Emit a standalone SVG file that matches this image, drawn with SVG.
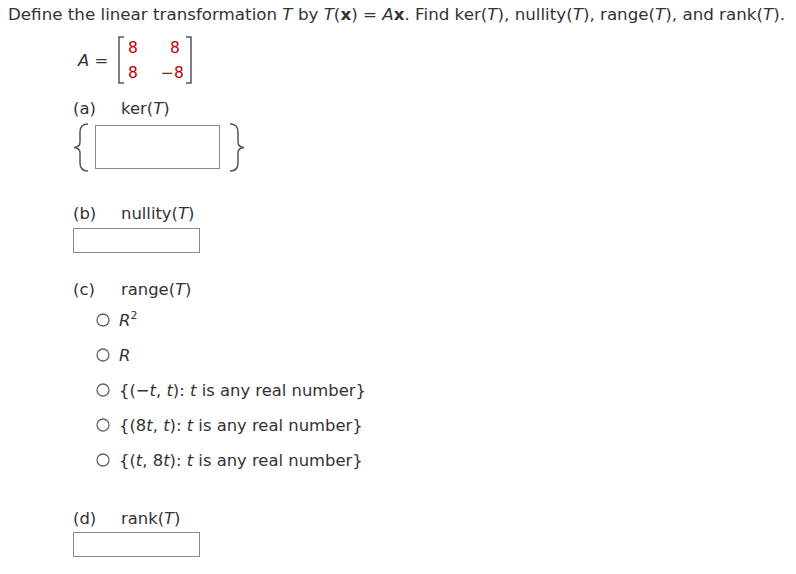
<svg xmlns="http://www.w3.org/2000/svg" width="796" height="574" viewBox="0 0 796 574">
<style>
text{font-family:"DejaVu Sans",Verdana,sans-serif;font-size:16.4px;fill:#333}
.i{font-style:italic}
.r{fill:#c00000;font-size:15.5px}
.box{fill:#fff;stroke:#888;stroke-width:1}
.rad{fill:#fff;stroke:#666;stroke-width:1.3}
.br{fill:none;stroke:#555;stroke-width:1.5}
</style>
<rect width="796" height="574" fill="#fff"/>
<text x="8" y="20" textLength="777" lengthAdjust="spacingAndGlyphs">Define the linear transformation <tspan class="i">T</tspan> by <tspan class="i">T</tspan>(<tspan font-weight="bold">x</tspan>) = <tspan class="i">A</tspan><tspan font-weight="bold">x</tspan>. Find ker(<tspan class="i">T</tspan>), nullity(<tspan class="i">T</tspan>), range(<tspan class="i">T</tspan>), and rank(<tspan class="i">T</tspan>).</text>
<text x="78" y="66" font-size="15"><tspan class="i">A</tspan> =</text>
<path class="br" d="M124,37 H119 V83 H124 M186,37 H191 V83 H186"/>
<text class="r" x="128" y="53">8</text><text class="r" x="170" y="53">8</text>
<text class="r" x="128" y="78">8</text><text class="r" x="161" y="78">−8</text>
<text x="73" y="114">(a)</text><text x="121" y="114">ker(<tspan class="i">T</tspan>)</text>
<path class="br" d="M88,124 Q80,124 80,132 V142 Q80,147 74,147.5 Q80,148 80,153 V163 Q80,171 88,171"/>
<rect class="box" x="95.5" y="125.5" width="124" height="43"/>
<path class="br" d="M230,124 Q238,124 238,132 V142 Q238,147 244,147.5 Q238,148 238,153 V163 Q238,171 230,171"/>
<text x="73" y="219">(b)</text><text x="121" y="219">nullity(<tspan class="i">T</tspan>)</text>
<rect class="box" x="73.5" y="228.5" width="126" height="24"/>
<text x="73" y="295">(c)</text><text x="121" y="295">range(<tspan class="i">T</tspan>)</text>
<circle class="rad" cx="103" cy="320" r="6"/><text x="119" y="326"><tspan class="i">R</tspan><tspan font-size="11" dy="-7">2</tspan></text>
<circle class="rad" cx="103" cy="355" r="6"/><text x="119" y="361" class="i">R</text>
<circle class="rad" cx="103" cy="390" r="6"/><text x="119" y="396">{(−<tspan class="i">t</tspan>, <tspan class="i">t</tspan>): <tspan class="i">t</tspan> is any real number}</text>
<circle class="rad" cx="103" cy="425" r="6"/><text x="119" y="431">{(8<tspan class="i">t</tspan>, <tspan class="i">t</tspan>): <tspan class="i">t</tspan> is any real number}</text>
<circle class="rad" cx="103" cy="460" r="6"/><text x="119" y="466">{(<tspan class="i">t</tspan>, 8<tspan class="i">t</tspan>): <tspan class="i">t</tspan> is any real number}</text>
<text x="73" y="524">(d)</text><text x="121" y="524">rank(<tspan class="i">T</tspan>)</text>
<rect class="box" x="73.5" y="532.5" width="126" height="24"/>
</svg>
